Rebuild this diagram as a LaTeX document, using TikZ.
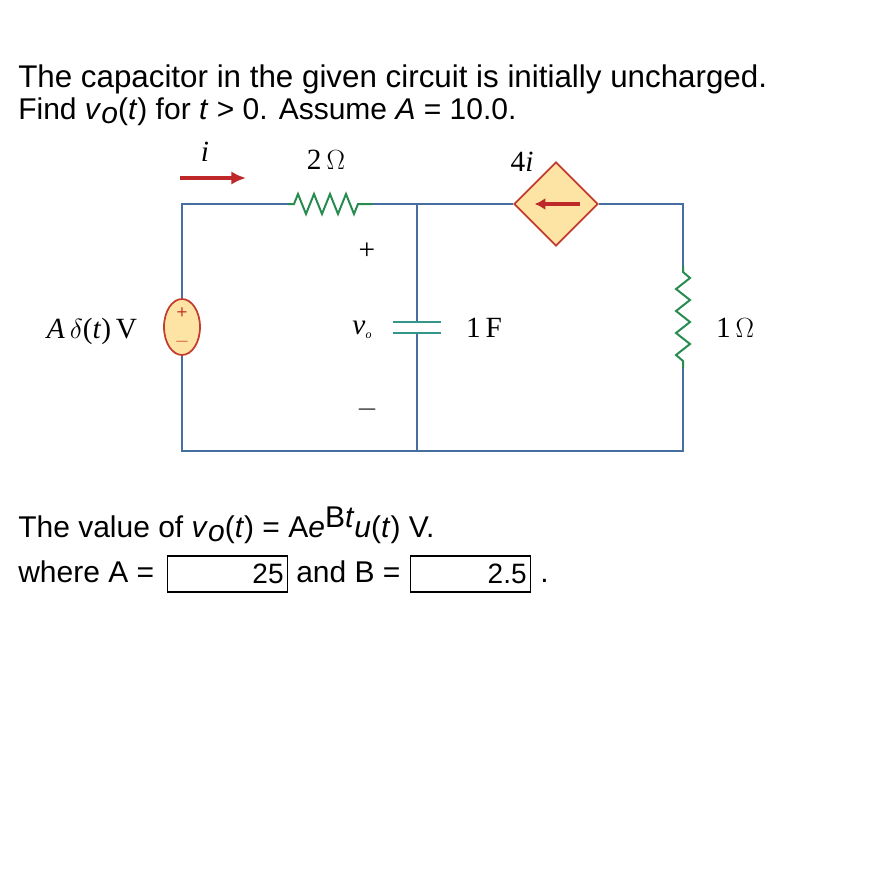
\documentclass[tikz,border=0pt]{standalone}
\usepackage{fontspec}
\setmainfont{Liberation Sans}
\newfontfamily\ser{Liberation Serif}
\usetikzlibrary{shapes.geometric,arrows.meta}
\definecolor{wire}{RGB}{70,110,160}
\definecolor{resg}{RGB}{40,140,80}
\definecolor{srcf}{RGB}{253,228,165}
\definecolor{srcd}{RGB}{195,60,45}
\definecolor{arr}{RGB}{190,40,40}
\definecolor{capc}{RGB}{50,150,140}
\begin{document}
\begin{tikzpicture}[x=0.75pt,y=-0.75pt,
  w/.style={draw=wire,line width=1.1pt},
  res/.style={draw=resg,line width=1.5pt},
  txt/.style={font=\fontsize{23.5}{28}\selectfont,anchor=base west,inner sep=0pt},
  txts/.style={font=\fontsize{22.5}{28}\selectfont,anchor=base west,inner sep=0pt},
  clab/.style={font=\ser\fontsize{22}{26}\selectfont,inner sep=0pt},
  ansbox/.style={draw=black,line width=0.9pt,minimum width=90pt,minimum height=27pt,inner sep=2pt,font=\fontsize{21}{24}\selectfont,align=right,text width=84pt}]
\useasboundingbox (0,0) rectangle (884,870);
% text
\node[txt] (l1) at (18,88) {The capacitor in the given circuit is initially uncharged.};
\node[txts] (l2) at (18,120) {Find \textit{v}\raisebox{-3pt}{\textit{o}}(\textit{t}) for \textit{t} > 0. Assume \textit{A} = 10.0.};
\node[txts] (l3) at (18,537) {The value of \textit{v}\raisebox{-3pt}{\textit{o}}(\textit{t}) = A\textit{e}\raisebox{7pt}{B\textit{t}}\textit{u}(\textit{t}) V.};
\node[txts] (l4) at (18,582) {where A =};
\node[ansbox,anchor=west] (ba) at (167,574) {25};
\node[txts] (l5) at (296,582) {and B =};
\node[ansbox,anchor=west] (bb) at (410,574) {2.5};
\node[txts] (l6) at (540,582) {.};
% coordinates
\coordinate (tl) at (182,204); \coordinate (tm) at (417,204); \coordinate (tr) at (683,204);
\coordinate (bl) at (182,451); \coordinate (bm) at (417,451); \coordinate (br) at (683,451);
\coordinate (r2a) at (288,204); \coordinate (r2b) at (372,204);
\coordinate (r1a) at (683,266); \coordinate (r1b) at (683,368);
\coordinate (ca) at (417,322); \coordinate (cb) at (417,333);
% components
\node[ellipse,draw=srcd,fill=srcf,line width=1.3pt,minimum width=36pt*0.75,minimum height=56pt*0.75,inner sep=0pt] (src) at (182,327) {};
\node[font=\fontsize{14}{14}\selectfont,text=srcd,inner sep=0pt] (sp) at (182,313) {+};
\node[font=\fontsize{14}{14}\selectfont,text=srcd,inner sep=0pt] (sm) at (182,342) {$-$};
\node[diamond,draw=srcd,fill=srcf,line width=1.3pt,minimum width=84pt*0.75,minimum height=84pt*0.75,inner sep=0pt] (dep) at (556,204) {};
\draw[arr,line width=3pt,-{Latex[length=8pt,width=9pt]}] ([xshift=18pt]dep.center) -- ([xshift=-16pt]dep.center);
% wires
\draw[w] (src.north) -- (tl) -- (r2a);
\draw[w] (r2b) -- (tm) -- (dep.west);
\draw[w] (dep.east) -- (tr) -- (r1a);
\draw[w] (r1b) -- (br) -- (bl) -- (src.south);
\draw[w] (tm) -- (ca); \draw[w] (cb) -- (bm);
\draw[res] (r2a) -- ++(6,0) -- ++(4,-10) -- ++(8,20) -- ++(8,-20) -- ++(8,20) -- ++(8,-20) -- ++(8,20) -- ++(8,-20) -- ++(8,20) -- ++(4,-10) -- (r2b);
\draw[res] (r1a) -- ++(0,6) -- ++(7,6) -- ++(-14,11) -- ++(14,11) -- ++(-14,11) -- ++(14,11) -- ++(-14,11) -- ++(14,11) -- ++(-14,11) -- ++(7,6) -- (r1b);
\draw[capc,line width=1.6pt] (393,322) -- (441,322) (393,333) -- (441,333);
% current arrow
\coordinate (ia) at (180,178); \coordinate (ib) at (246,178);
\draw[arr,line width=3pt,-{Latex[length=11pt,width=10pt]}] (ia) -- (ib);
% labels
\node[clab,font=\ser\itshape\fontsize{22}{26}\selectfont] (il) at (205,152) {i};
\node[clab] (l2o) at (326,160) {2\,$\Omega$};
\node[clab] (l4i) at (522,162) {4\textit{i}};
\node[clab] (lp) at (367,251) {+};
\node[clab] (lv) at (362,330) {\textit{v\raisebox{-3pt}{\small o}}};
\node[clab] (lm) at (367,410) {$-$};
\node[clab] (l1f) at (484,328) {1\,F};
\node[clab] (l1o) at (735,328) {1\,$\Omega$};
\node[clab] (la) at (92,331) {\textit{A}\,$\delta$(\textit{t})\,V};
\end{tikzpicture}
\end{document}
